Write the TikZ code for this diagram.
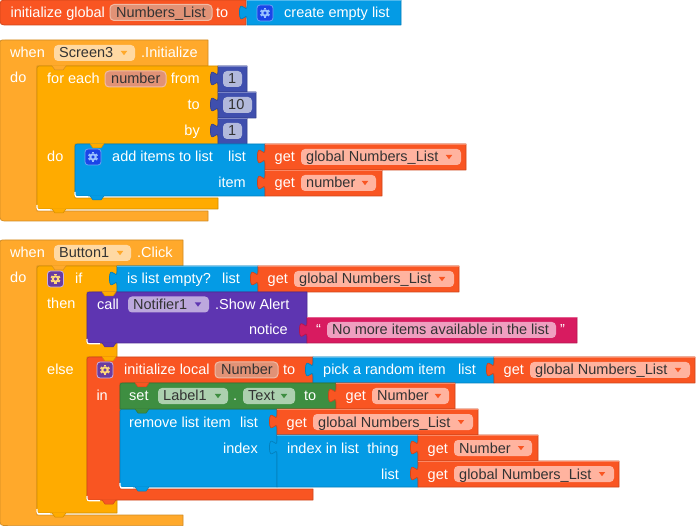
\documentclass[tikz,border=0pt]{standalone}
\usepackage{fontspec}
\setmainfont{Liberation Sans}
\definecolor{cRed}{HTML}{F95522}
\definecolor{cWhen}{HTML}{FFA92B}
\definecolor{cCtl}{HTML}{FFAB00}
\definecolor{cBlue}{HTML}{049BE5}
\definecolor{cInd}{HTML}{3F4FAE}
\definecolor{cPur}{HTML}{5E35B1}
\definecolor{cMag}{HTML}{D81B60}
\definecolor{cGrn}{HTML}{3E8E41}
\definecolor{fRed}{HTML}{FFB39F}
\definecolor{fVar}{HTML}{E19276}
\definecolor{fVarB}{HTML}{F0BBA6}
\definecolor{fOrg}{HTML}{FFD9A3}
\definecolor{fInd}{HTML}{B2B9DC}
\definecolor{fPur}{HTML}{BCA8DD}
\definecolor{fMag}{HTML}{EF9FC0}
\definecolor{fGrn}{HTML}{ACD0AF}
\definecolor{cTxt}{HTML}{333333}
\definecolor{gBox}{HTML}{1A45E8}
\definecolor{gBoxB}{HTML}{6FA0F5}
\definecolor{gCog}{HTML}{9CC4FF}
\definecolor{pBox}{HTML}{6A3BA0}
\definecolor{pBoxB}{HTML}{C9B3E3}
\definecolor{pCog}{HTML}{FFD97A}
\tikzset{
  blockedge/.style={line width=.7pt,line join=round},
  blocklabel/.style={text=white,inner sep=0pt,font=\fontsize{14.5}{17}\selectfont},
  fieldlabel/.style={text=cTxt,inner sep=0pt,font=\fontsize{14.5}{17}\selectfont},
}
% output block with a puzzle tab on its left: x1 y1 x2 y2 colour
\newcommand{\outblk}[5]{%
  \path[fill=#5,draw=#5!82!black,blockedge] (#1,#2) -- (#1,{#2+5.5})
   .. controls (#1,{#2+15}) and ({#1-7.5},{#2-2.5}) .. ({#1-7.5},{#2+12.5})
   .. controls ({#1-7.5},{#2+27.5}) and (#1,{#2+10}) .. (#1,{#2+19.5})
   -- (#1,#4) -- (#3,#4) -- (#3,#2) -- cycle;
  \draw[#5!70!white,line width=.7pt] (#1,#2) -- (#3,#2);
}
% plain block with rounded left corners: x1 y1 x2 y2 colour radius
\newcommand{\stblk}[6]{%
  \path[fill=#5,draw=#5!82!black,blockedge] (#1,{#2+#6}) .. controls (#1,#2) .. ({#1+#6},#2)
   -- (#3,#2) -- (#3,#4) -- ({#1+#6},#4) .. controls (#1,#4) .. (#1,{#4-#6}) -- cycle;
}
% bump: x y colour
\newcommand{\bump}[3]{%
  \fill[#3] (#1,{#2-.5}) -- (#1,#2) -- ({#1+3},{#2+4}) -- ({#1+11},{#2+4}) -- ({#1+14},#2) -- ({#1+14},{#2-.5}) -- cycle;
  \draw[#3!82!black,line width=.5pt] (#1,#2) -- ({#1+3},{#2+4}) -- ({#1+11},{#2+4}) -- ({#1+14},#2);
}
% white lens under a nested block's lower left corner: x y
\newcommand{\wlens}[2]{%
  \draw[white,line width=1.2pt] (#1,{#2-4}) .. controls (#1,{#2+.8}) .. ({#1+5},{#2+.8}) -- ({#1+13},{#2+.8});
}
\newcommand{\lab}[4]{\node[blocklabel,anchor=base west] (#1) at (#2,{#3+5}) {#4};}
\newcommand{\labr}[4]{\node[blocklabel,anchor=base east] (#1) at (#2,{#3+5}) {#4};}
% field: name x1 x2 yc fill text
\newcommand{\fld}[6]{%
  \path[rounded corners=4pt,fill=#5] (#2,{#4-8}) rectangle (#3,{#4+8});
  \node[fieldlabel,anchor=base west] (#1) at ({#2+5},{#4+5}) {#6};
}
\newcommand{\arrowmark}[3]{%
  \fill[#3] ({#1-3.2},{#2-2}) -- ({#1+3.2},{#2-2}) -- (#1,{#2+2.2}) -- cycle;
}
% variable field
\newcommand{\varfld}[5]{%
  \path[rounded corners=4pt,fill=fVar,draw=fVarB,line width=1pt] (#2,{#4-8}) rectangle (#3,{#4+8});
  \node[fieldlabel,anchor=base west] (#1) at ({#2+6},{#4+5}) {#5};
}
% gear: cx cy box border gear
\newcommand{\gearicon}[5]{%
  \path[rounded corners=3pt,fill=#3,draw=#4,line width=.8pt] ({#1-8},{#2-8}) rectangle ({#1+8},{#2+8});
  \draw[#5,line width=2pt] (#1,#2) circle[radius=2.7];
  \foreach \a in {30,90,...,330}{
    \draw[#5,line width=2.2pt] ({#1+3.5*cos(\a)},{#2+3.5*sin(\a)}) -- ({#1+5*cos(\a)},{#2+5*sin(\a)});
  }
}
% get block with global field: name x y
\newcommand{\getglobal}[3]{%
  \outblk{#2}{#3}{{#2+201}}{#3+26}{cRed}
  \lab{#1a}{#2+9.5}{#3+13}{get}
  \fld{#1b}{#2+36}{#2+196}{#3+13}{fRed}{global Numbers\_List}
  \arrowmark{#2+184}{#3+13}{cRed}
}
\newcommand{\getvar}[5]{% name x y width text
  \outblk{#2}{#3}{{#2+#4}}{#3+26}{cRed}
  \lab{#1a}{#2+9.5}{#3+13}{get}
  \fld{#1b}{#2+36}{#2+#4-6}{#3+13}{fRed}{#5}
  \arrowmark{#2+#4-17}{#3+13}{cRed}
}
\begin{document}
\begin{tikzpicture}[x=1pt,y=-1pt]
\useasboundingbox (0,0) rectangle (696,526);
\fill[white] (0,0) rectangle (696,526);

% ---- row 1: global list
\path[fill=cRed,draw=cRed!82!black,blockedge] (0,8) .. controls (0,0) .. (8,0) -- (246,0) -- (246,25) -- (8,25) .. controls (0,25) .. (0,17) -- cycle;
\lab{initglobal}{10.5}{12.5}{initialize global}
\varfld{numberslist}{110}{212}{12.5}{Numbers\_List}
\lab{initto}{216}{12.5}{to}
\outblk{247}{0}{401}{25}{cBlue}
\gearicon{265}{13}{gBox}{gBoxB}{gCog}
\lab{createempty}{284}{12.5}{create empty list}

% ---- when Screen3
\path[fill=cWhen,draw=cWhen!82!black,blockedge] (0,45) .. controls (0,40) .. (5,40) -- (208,40) -- (208,66) -- (37,66) -- (37,211) -- (208,211) -- (208,221) -- (8,221) .. controls (0,221) .. (0,213) -- cycle;
\lab{whenA}{10}{53}{when}
\fld{screenthree}{54}{135}{53}{fOrg}{Screen3}
\arrowmark{124}{53}{cWhen}
\lab{initialize}{141}{53}{.Initialize}
\lab{doA}{10}{78}{do}
% for each
\path[fill=cCtl,draw=cCtl!82!black,blockedge] (37,71) .. controls (37,66) .. (42,66) -- (218,66) -- (218,144) -- (75,144) -- (75,198) -- (218,198) -- (218,209) -- (42,209) .. controls (37,209) .. (37,204) -- cycle;
\wlens{37}{209}
\bump{52}{66}{cWhen}
\lab{foreach}{47}{79}{for each}
\varfld{numvar}{105}{166}{79}{number}
\labr{from}{200}{79}{from}
\labr{toA}{200}{105}{to}
\labr{byA}{200}{131}{by}
\outblk{218}{66}{247}{92}{cInd}
\fld{numone}{223}{242}{79}{fInd}{1}
\outblk{218}{92}{256}{118}{cInd}
\fld{numten}{223}{252}{105}{fInd}{10}
\outblk{218}{118}{247}{144}{cInd}
\fld{numoneb}{223}{242}{131}{fInd}{1}
\lab{doB}{47}{157}{do}
% add items
\stblk{75}{144}{265}{196}{cBlue}{5}
\wlens{75}{196}
\bump{90}{144}{cCtl}
\bump{90}{196}{cBlue}
\bump{52}{209}{cCtl}
\gearicon{93}{157}{gBox}{gBoxB}{gCog}
\lab{additems}{112}{157}{add items to list}
\labr{listA}{246}{157}{list}
\labr{itemA}{246}{183}{item}
\getglobal{gA}{265}{144}
\getvar{gB}{265}{170}{117}{number}

% ---- when Button1
\path[fill=cWhen,draw=cWhen!82!black,blockedge] (0,245) .. controls (0,240) .. (5,240) -- (183,240) -- (183,266) -- (37,266) -- (37,515) -- (183,515) -- (183,525.6) -- (8,525.6) .. controls (0,525.6) .. (0,517.6) -- cycle;
\lab{whenB}{10}{253}{when}
\fld{buttonone}{54}{131}{253}{fOrg}{Button1}
\arrowmark{120}{253}{cWhen}
\lab{click}{137}{253}{.Click}
\lab{doC}{10}{278}{do}
% if
\path[fill=cCtl,draw=cCtl!82!black,blockedge] (37,271) .. controls (37,266) .. (42,266) -- (117,266) -- (117,292) -- (87,292) -- (87,343) -- (117,343) -- (117,357) -- (87,357) -- (87,500) -- (117,500) -- (117,513) -- (42,513) .. controls (37,513) .. (37,508) -- cycle;
\wlens{37}{513}
\bump{52}{266}{cWhen}
\bump{52}{513}{cCtl}
\gearicon{55.5}{279}{pBox}{pBoxB}{pCog}
\lab{ifA}{75}{279}{if}
\lab{thenA}{47}{304}{then}
\lab{elseA}{47}{369}{else}
% is list empty
\outblk{117}{266}{258}{292}{cBlue}
\lab{islistempty}{127}{279}{is list empty?}
\labr{listB}{240}{279}{list}
\getglobal{gC}{258}{266}
% call notifier
\stblk{87}{292}{307}{343}{cPur}{5}
\wlens{87}{343}
\bump{102}{292}{cCtl}
\bump{102}{343}{cPur}
\lab{call}{97}{304.5}{call}
\fld{notifier}{128}{209}{304.5}{fPur}{Notifier1}
\arrowmark{198}{304.5}{cPur}
\lab{showalert}{215}{304.5}{.Show Alert}
\labr{notice}{288}{330}{notice}
\outblk{307}{317.5}{577}{343}{cMag}
\lab{openq}{316}{330}{“}
\fld{message}{327}{556}{330}{fMag}{No more items available in the list}
\lab{closeq}{560}{330}{”}
% initialize local
\path[fill=cRed,draw=cRed!82!black,blockedge] (87,362) .. controls (87,357) .. (92,357) -- (313,357) -- (313,383) -- (120,383) -- (120,489) -- (313,489) -- (313,500) -- (92,500) .. controls (87,500) .. (87,495) -- cycle;
\wlens{87}{500}
\bump{102}{357}{cCtl}
\bump{102}{500}{cRed}
\gearicon{105}{370}{pBox}{pBoxB}{pCog}
\lab{initlocal}{124}{370}{initialize local}
\varfld{numberlocal}{215}{278}{370}{Number}
\lab{toB}{283}{370}{to}
\outblk{313}{357}{494}{383}{cBlue}
\lab{pick}{323}{370}{pick a random item}
\labr{listC}{476}{370}{list}
\getglobal{gD}{494}{357}
\labr{inA}{108}{396}{in}
% remove list item (under the set block)
\stblk{120}{409}{277}{487}{cBlue}{5}
\wlens{120}{487}
\bump{135}{487}{cBlue}
\lab{removeitem}{129}{422}{remove list item}
\labr{listD}{258}{422}{list}
\labr{indexA}{258}{448}{index}
% set
\path[fill=cGrn,draw=cGrn!82!black,blockedge] (120,388) .. controls (120,383) .. (125,383) -- (336,383) -- (336,409) -- (120,409) -- cycle;
\bump{135}{383}{cRed}
\bump{135}{409}{cGrn}
\lab{setA}{129}{396}{set}
\fld{labelone}{158}{228}{396}{fGrn}{Label1}
\arrowmark{218}{396}{cGrn}
\lab{dot}{233}{396}{.}
\fld{textprop}{243}{295}{396}{fGrn}{Text}
\arrowmark{284}{396}{cGrn}
\lab{toC}{304}{396}{to}
\getvar{gE}{336}{383}{119}{Number}
\getglobal{gF}{277}{409}
% index in list
\outblk{277}{435}{418}{487}{cBlue}
\lab{indexinlist}{287}{448}{index in list}
\labr{thing}{399}{448}{thing}
\labr{listE}{399}{474}{list}
\getvar{gG}{418}{435}{120}{Number}
\getglobal{gH}{418}{461}
\end{tikzpicture}
\end{document}
